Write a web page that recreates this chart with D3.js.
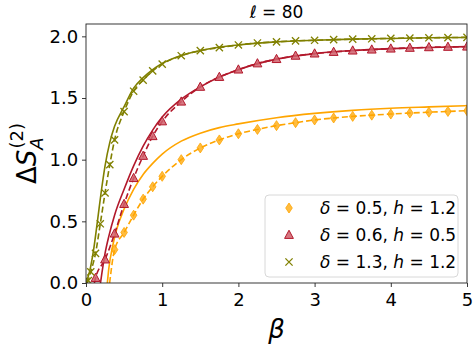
<!DOCTYPE html>
<html><head><meta charset="utf-8">
<script src="https://cdn.jsdelivr.net/npm/d3@7"></script>
<style>body{margin:0;background:#fff}svg{display:block}text{font-family:"DejaVu Sans",sans-serif}</style>
</head><body><svg id="c" width="474" height="348"></svg>
<script>
// ---- data ----
const xTicks = [0,1,2,3,4,5];
const yTicks = [0.0,0.5,1.0,1.5,2.0];
const legendLabels = [["0.5","1.2"],["0.6","0.5"],["1.3","1.2"]];

// markers (numerical data)
const betaOrange = [0.375,0.5,0.625,0.75,0.875,1.0,1.25,1.5,1.75,2.0,2.25,2.5,2.75,3.0,3.25,3.5,3.75,4.0,4.25,4.5,4.75,5.0];
const valOrange  = [0.27,0.41,0.55,0.68,0.78,0.865,1.0,1.095,1.16,1.21,1.245,1.276,1.30,1.322,1.338,1.351,1.361,1.37,1.378,1.385,1.391,1.397];
const betaRed = [0.125,0.25,0.375,0.5,0.625,0.75,0.875,1.0,1.25,1.5,1.75,2.0,2.25,2.5,2.75,3.0,3.25,3.5,3.75,4.0,4.25,4.5,4.75,5.0];
const valRed  = [0.04,0.19,0.40,0.64,0.85,1.03,1.19,1.31,1.47,1.59,1.67,1.73,1.78,1.815,1.842,1.86,1.873,1.884,1.892,1.90,1.906,1.911,1.914,1.916];
const betaGreen = [0.03,0.0625,0.125,0.1875,0.25,0.3125,0.375,0.5,0.625,0.75,0.875,1.0,1.25,1.5,1.75,2.0,2.25,2.5,2.75,3.0,3.25,3.5,3.75,4.0,4.25,4.5,4.75,5.0];
const valGreen  = [0.02,0.09,0.24,0.48,0.73,0.96,1.16,1.39,1.555,1.645,1.72,1.775,1.843,1.884,1.908,1.93,1.946,1.955,1.963,1.968,1.973,1.977,1.98,1.983,1.986,1.988,1.99,1.992];
// dashed line start points (beta where curve meets zero)
const dashStartOrange = 0.31, dashStartRed = 0.11, dashStartGreen = 0.015;

// solid lines (analytical)
const solOrangeB = [0.28,0.3,0.35,0.4,0.5,0.625,0.75,0.875,1.0,1.25,1.5,1.75,2.0,2.5,3.0,3.5,4.0,4.5,5.0];
const solOrangeV = [0,0.12,0.3,0.43,0.6,0.76,0.88,0.97,1.045,1.15,1.215,1.26,1.29,1.34,1.375,1.40,1.417,1.428,1.438];
const solRedB = [0.19,0.25,0.3,0.375,0.5,0.625,0.75,0.875,1.0,1.25,1.5,1.75,2.0,2.5,3.0,3.5,4.0,4.5,5.0];
const solRedV = [0,0.24,0.38,0.55,0.76,0.95,1.11,1.24,1.345,1.49,1.59,1.67,1.73,1.815,1.86,1.885,1.90,1.91,1.917];
const solGreenB = [0.0,0.05,0.1,0.15,0.2,0.25,0.3125,0.375,0.5,0.625,0.75,0.875,1.0,1.25,1.5,2.0,2.5,3.0,3.5,4.0,4.5,5.0];
const solGreenV = [0.0,0.1,0.27,0.5,0.74,0.95,1.14,1.27,1.43,1.58,1.665,1.73,1.78,1.845,1.885,1.93,1.955,1.968,1.977,1.983,1.988,1.991];

const cOrange = "#ffa500", cRed = "#b2182b", cGreen = "#808000";

// ---- layout ----
const svg = d3.select("#c");
const L = 86, R = 467, T = 24, B = 283;
const x = d3.scaleLinear().domain([0,5]).range([L,R]);
const y = d3.scaleLinear().domain([0,2.1]).range([B,T]);

const clip = svg.append("clipPath").attr("id","pc").append("rect")
  .attr("x",L).attr("y",T).attr("width",R-L).attr("height",B-T);
const g = svg.append("g").attr("clip-path","url(#pc)");

const line = d3.line().x(d=>x(d[0])).y(d=>y(d[1])).curve(d3.curveMonotoneX);
const zip = (a,b)=>a.map((v,i)=>[v,b[i]]);

const series = [
  {c:cOrange, sb:solOrangeB, sv:solOrangeV, mb:betaOrange, mv:valOrange, ds:dashStartOrange, m:"diamond"},
  {c:cRed, sb:solRedB, sv:solRedV, mb:betaRed, mv:valRed, ds:dashStartRed, m:"tri"},
  {c:cGreen, sb:solGreenB, sv:solGreenV, mb:betaGreen, mv:valGreen, ds:dashStartGreen, m:"x"}
];

function drawMarker(sel, type, c, cx, cy){
  if(type==="diamond"){
    sel.append("path").attr("d",`M${cx},${cy-5}L${cx+3.3},${cy}L${cx},${cy+5}L${cx-3.3},${cy}Z`)
      .attr("fill",c).attr("fill-opacity",0.75).attr("stroke",c).attr("stroke-width",0.8);
  } else if(type==="tri"){
    sel.append("path").attr("d",`M${cx},${cy-4.8}L${cx+4.4},${cy+3.4}L${cx-4.4},${cy+3.4}Z`)
      .attr("fill","#d0606c").attr("fill-opacity",0.85).attr("stroke",c).attr("stroke-width",1);
  } else {
    sel.append("path").attr("d",`M${cx-3.6},${cy-3.6}L${cx+3.6},${cy+3.6}M${cx-3.6},${cy+3.6}L${cx+3.6},${cy-3.6}`)
      .attr("stroke",c).attr("stroke-width",1.3).attr("fill","none");
  }
}

series.forEach(s=>{
  g.append("path").datum(zip(s.sb,s.sv)).attr("d",line)
    .attr("fill","none").attr("stroke",s.c).attr("stroke-width",1.6);
  g.append("path").datum([[s.ds,0]].concat(zip(s.mb,s.mv))).attr("d",line)
    .attr("fill","none").attr("stroke",s.c).attr("stroke-width",1.6).attr("stroke-dasharray","6,3");
});
series.forEach(s=>{
  s.mb.forEach((b,i)=>drawMarker(g, s.m, s.c, x(b), y(s.mv[i])));
});

// axes
const ax = svg.append("g").attr("transform",`translate(0,${B})`)
  .call(d3.axisBottom(x).tickValues(xTicks).tickFormat(d3.format("d")).tickSize(4).tickSizeOuter(0));
const ay = svg.append("g").attr("transform",`translate(${L},0)`)
  .call(d3.axisLeft(y).tickValues(yTicks).tickFormat(d3.format(".1f")).tickSize(4).tickSizeOuter(0));
[ax,ay].forEach(a=>{
  a.select(".domain").remove();
  a.selectAll("line").attr("stroke","#222").attr("stroke-width",0.9);
  a.selectAll("text").attr("font-size",18).attr("fill","#000");
});
ax.selectAll("text").attr("dy","0.9em");
ay.selectAll("text").attr("dx","-0.05em");
svg.append("rect").attr("x",L).attr("y",T).attr("width",R-L).attr("height",B-T)
  .attr("fill","none").attr("stroke","#222").attr("stroke-width",0.9);

// title
const tt = svg.append("text").attr("x",(L+R)/2).attr("y",18).attr("text-anchor","middle").attr("font-size",17);
tt.append("tspan").attr("font-style","italic").text("ℓ");
tt.append("tspan").text(" = 80");

// x label
svg.append("text").attr("x",(L+R)/2).attr("y",338).attr("text-anchor","middle")
  .attr("font-size",26).attr("font-style","italic").text("β");

// y label
const yl = svg.append("text").attr("transform",`translate(36,${(T+B)/2}) rotate(-90)`)
  .attr("text-anchor","middle").attr("font-size",26);
yl.append("tspan").text("Δ");
yl.append("tspan").attr("font-style","italic").text("S");
yl.append("tspan").attr("font-style","italic").attr("font-size",18).attr("dy",7).text("A");
yl.append("tspan").attr("font-size",18).attr("dy",-20).attr("dx",-11).text("(2)");

// legend
const lg = svg.append("g");
lg.append("rect").attr("x",265).attr("y",195).attr("width",193).attr("height",82).attr("rx",4)
  .attr("fill","#fff").attr("fill-opacity",0.8).attr("stroke","#d8d8d8").attr("stroke-width",1);
legendLabels.forEach((lab,i)=>{
  const yy = 208 + i*27;
  drawMarker(lg, series[i].m, series[i].c, 289, yy);
  const t = lg.append("text").attr("x",320).attr("y",yy+6).attr("font-size",17);
  t.append("tspan").attr("font-style","italic").text("δ");
  t.append("tspan").text(" = " + lab[0] + ", ");
  t.append("tspan").attr("font-style","italic").text("h");
  t.append("tspan").text(" = " + lab[1]);
});
</script></body></html>
